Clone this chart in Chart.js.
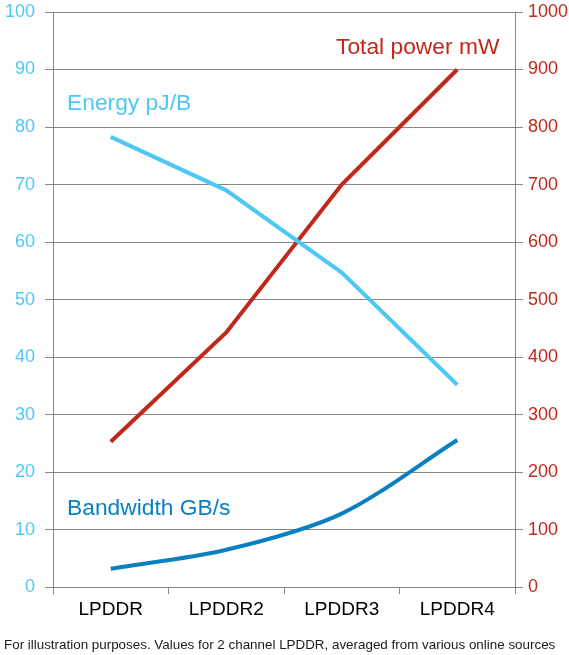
<!DOCTYPE html>
<html><head><meta charset="utf-8">
<script src="https://cdn.jsdelivr.net/npm/chart.js@4/dist/chart.umd.min.js"></script>
<style>html,body{margin:0;padding:0;background:#fff;}canvas{display:block;}</style>
</head><body>
<canvas id="c" width="569" height="655"></canvas>
<script>
const categories = ['LPDDR', 'LPDDR2', 'LPDDR3', 'LPDDR4'];
const energyPJperB = [78.3, 69.0, 54.7, 35.2];
const totalPowerMW = [253, 443, 700, 900];
const bandwidthGBs = [3.2, 6.5, 12.8, 25.6];
const seriesLabels = ['Energy pJ/B', 'Total power mW', 'Bandwidth GB/s'];
const footnote = 'For illustration purposes. Values for 2 channel LPDDR, averaged from various online sources';

const C_ENERGY = '#4DC8F5', C_POWER = '#C0281B', C_BW = '#0A80C0', C_AXIS = '#868686';
const FONT = '"Liberation Sans", Arial, sans-serif';

const labelPlugin = {
  id: 'labels',
  afterDraw(chart) {
    const ctx = chart.ctx, a = chart.chartArea;
    ctx.save();
    ctx.font = '22.8px ' + FONT;
    ctx.textBaseline = 'middle';
    ctx.textAlign = 'left';
    ctx.fillStyle = C_ENERGY; ctx.fillText(seriesLabels[0], a.left + 14, 104);
    ctx.fillStyle = C_POWER; ctx.fillText(seriesLabels[1], 336, 48);
    ctx.fillStyle = C_BW; ctx.fillText(seriesLabels[2], a.left + 14, 509);
    ctx.font = '13.4px ' + FONT;
    ctx.fillStyle = '#1a1a1a';
    ctx.textAlign = 'left';
    ctx.fillText(footnote, 4, 645);
    ctx.restore();
  }
};

function fitY(w) {
  return function (s) { s.width = w; s.paddingTop = 0; s.paddingBottom = 0; };
}

new Chart(document.getElementById('c'), {
  type: 'line',
  data: {
    labels: categories,
    datasets: [
      { label: seriesLabels[0], data: energyPJperB, yAxisID: 'y', borderColor: C_ENERGY, borderWidth: 4, pointRadius: 0, tension: 0, borderCapStyle: 'butt' },
      { label: seriesLabels[1], data: totalPowerMW, yAxisID: 'y1', borderColor: C_POWER, borderWidth: 4, pointRadius: 0, tension: 0 },
      { label: seriesLabels[2], data: bandwidthGBs, yAxisID: 'y', borderColor: C_BW, borderWidth: 4, pointRadius: 0, tension: 0.3 }
    ]
  },
  options: {
    responsive: false,
    animation: false,
    layout: { padding: { top: 12, bottom: 30, left: 0, right: 0 } },
    plugins: { legend: { display: false }, tooltip: { enabled: false } },
    scales: {
      x: {
        offset: true,
        grid: { offset: true, drawOnChartArea: false, drawTicks: true, tickLength: 7, color: C_AXIS },
        border: { color: C_AXIS, width: 1 },
        ticks: { color: '#000', font: { family: FONT, size: 19 }, padding: 4 }
      },
      y: {
        position: 'left', min: 0, max: 100,
        ticks: { stepSize: 10, color: C_ENERGY, font: { family: FONT, size: 18 }, padding: 10 },
        grid: { color: C_AXIS, tickLength: 8 },
        border: { color: C_AXIS, width: 1 },
        afterFit: fitY(53)
      },
      y1: {
        position: 'right', min: 0, max: 1000,
        ticks: { stepSize: 100, color: C_POWER, font: { family: FONT, size: 18 }, padding: 5, callback: v => String(v) },
        grid: { drawOnChartArea: false, color: C_AXIS, tickLength: 8 },
        border: { color: C_AXIS, width: 1 },
        afterFit: fitY(54)
      }
    }
  },
  plugins: [labelPlugin]
});
</script>
</body></html>
